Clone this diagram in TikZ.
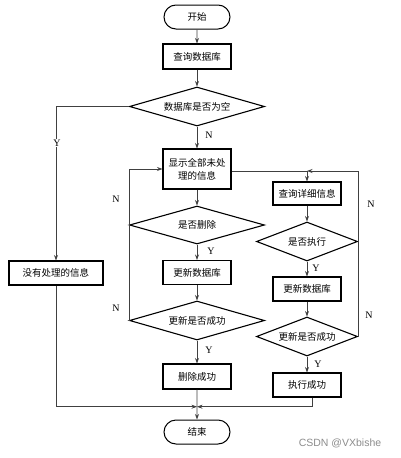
\documentclass[tikz,border=0pt]{standalone}
\usepackage{fontspec}
\setmainfont{Liberation Serif}
\newfontfamily\cjk{Noto Sans CJK SC}
\newfontfamily\marksans{Liberation Sans}
\usetikzlibrary{shapes.geometric, shapes.misc, arrows.meta}

\tikzset{
    procbox/.style={draw, line width=1.1pt, rectangle, minimum width=68pt, minimum height=24pt,
        inner sep=1pt, font=\cjk\fontsize{9.5}{13}\selectfont, align=center},
    termbox/.style={procbox, rounded rectangle, line width=1pt},
    decbox/.style={draw, line width=1.1pt, diamond, aspect=3.5, inner sep=0pt,
        minimum width=135pt, minimum height=39pt, font=\cjk\fontsize{9.5}{13}\selectfont},
    flow/.style={draw=black!75, line width=0.8pt, -{Stealth[length=5.5pt,width=4pt,fill=black]}},
    flowline/.style={draw=black!75, line width=0.8pt},
    yn/.style={font=\fontsize{10}{12}\selectfont, inner sep=1pt}
}

\begin{document}
\begin{tikzpicture}[x=1pt, y=-1pt]
            \useasboundingbox (0,0) rectangle (401,458);

            % Main column
            \node[termbox] (start) at (197,17) {开始};
            \node[procbox, minimum height=25pt] (query) at (197,56.5) {查询数据库};
            \node[decbox] (empty) at (197,106.5) {数据库是否为空};
            \node[procbox, minimum height=40pt] (show) at (197,169) {显示全部未处\\理的信息};
            \node[decbox, minimum height=38pt] (del) at (197,225) {是否删除};
            \node[procbox] (upd1) at (197,272.5) {更新数据库};
            \node[decbox] (ok1) at (197,320.5) {更新是否成功};
            \node[procbox, minimum height=25pt] (done1) at (197,376.5) {删除成功};
            \node[termbox] (end) at (197,432) {结束};

            % Left column
            \node[procbox, minimum width=94pt] (none) at (56,273) {没有处理的信息};

            % Right column
            \node[procbox, minimum height=23pt] (detail) at (307,193.5) {查询详细信息};
            \node[decbox, minimum width=101pt] (exec) at (307,241.5) {是否执行};
            \node[procbox] (upd2) at (307,289) {更新数据库};
            \node[decbox, minimum width=101pt] (ok2) at (307,336.5) {更新是否成功};
            \node[procbox] (done2) at (307,385) {执行成功};

            % Junctions
            \coordinate (jn) at (detail.north |- 0,171);
            \coordinate (mg) at (197,406.7);

            % Main flow
            \draw[flow] (start) -- (query);
            \draw[flow] (query) -- (empty);
            \draw[flow] (empty) -- (show);
            \draw[flow] (show) -- (del);
            \draw[flow] (del) -- (upd1);
            \draw[flow] (upd1) -- (ok1);
            \draw[flow] (ok1) -- (done1);
            \draw[flow] (done1) -- (end);

            % Empty database
            \draw[flow] (empty.west) -| (none.north);

            % Left loop
            \draw[flow] (ok1.west) |- (show.west);

            % Right branch and loop
            \draw[flowline] (show.east |- jn) -- (jn);
            \draw[flow] (jn) -- (detail.north);
            \draw[flow] (ok2.east) |- (jn);
            \draw[flow] (detail) -- (exec);
            \draw[flow] (exec) -- (upd2);
            \draw[flow] (upd2) -- (ok2);
            \draw[flow] (ok2) -- (done2);

            % Merge into end
            \draw[flow] (none.south) |- (mg);
            \draw[flow] ([xshift=5pt]done2.south) |- (mg);

            % Labels
            \node[yn, fill=white] at (57,143) {Y};
            \node[yn] at (209,135) {N};
            \node[yn] at (211,251) {Y};
            \node[yn] at (209,350) {Y};
            \node[yn] at (116,199) {N};
            \node[yn] at (116,308) {N};
            \node[yn] at (316,268) {Y};
            \node[yn] at (318,364) {Y};
            \node[yn] at (371,204) {N};
            \node[yn] at (369,315) {N};

            % Watermark
            \node[text=black!45, font=\marksans\fontsize{10.5}{12}\selectfont] at (340,443) {CSDN @VXbishe};
\end{tikzpicture}
\end{document}
